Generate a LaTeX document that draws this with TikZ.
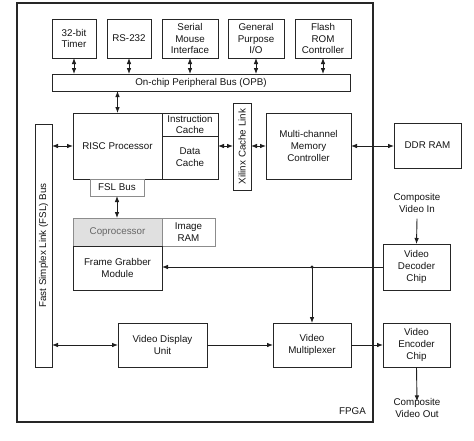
\documentclass[tikz,border=0pt]{standalone}
\usepackage{fontspec}
\setmainfont{Liberation Sans}
\usetikzlibrary{arrows.meta}
\begin{document}
\begin{tikzpicture}[x=1pt,y=-1pt,
  every node/.style={font=\fontsize{9.8}{11.7}\selectfont, text=black!92},
  box/.style={draw=black!85, line width=0.9pt, anchor=north west, inner sep=0pt, outer sep=0pt, align=center},
  lbox/.style={box, draw=black!45},
  lbl/.style={align=center, inner sep=0pt},
  conn/.style={draw=black!88, line width=0.9pt},
  dbl/.style={conn, {Latex[length=6pt,width=4.6pt]}-{Latex[length=6pt,width=4.6pt]}},
  sgl/.style={conn, -{Latex[length=6pt,width=4.6pt]}}]
\useasboundingbox (0,0) rectangle (474,440);
% FPGA frame
\node[box, line width=1.4pt, minimum width=356pt, minimum height=419pt] (fpga) at (17,3) {};
\node[lbl, anchor=south east] (fpgalbl) at (366,415) {FPGA};
% peripherals
\node[box, minimum width=44pt, minimum height=39pt] (timer) at (52,19) {32-bit\\Timer};
\node[box, minimum width=44pt, minimum height=39pt] (rs) at (107,19) {RS-232};
\node[box, minimum width=56pt, minimum height=39pt] (mouse) at (162,19) {Serial\\Mouse\\Interface};
\node[box, minimum width=56pt, minimum height=39pt] (gpio) at (228,19) {General\\Purpose\\I/O};
\node[box, minimum width=56pt, minimum height=39pt] (flash) at (295,19) {Flash\\ROM\\Controller};
\node[box, minimum width=298pt, minimum height=17pt] (opb) at (52,74) {On-chip Peripheral Bus (OPB)};
% processor
\node[box, minimum width=89pt, minimum height=66pt] (risc) at (73,113) {RISC Processor};
\node[box, minimum width=56pt, minimum height=23pt] (icache) at (162,113) {Instruction\\Cache};
\node[box, minimum width=56pt, minimum height=43pt] (dcache) at (162,136) {Data\\Cache};
\node[lbox, minimum width=54pt, minimum height=17pt] (fslbus) at (90,179) {FSL Bus};
\node[box, minimum width=17pt, minimum height=243pt] (fsl) at (35,124) {};
\node[lbl, rotate=90] (fsltxt) at (fsl.center) {Fast Simplex Link (FSL) Bus};
\node[box, minimum width=18pt, minimum height=87pt] (xcl) at (233,103) {};
\node[lbl, rotate=90] (xcltxt) at (xcl.center) {Xilinx Cache Link};
\node[box, minimum width=85pt, minimum height=66pt] (mem) at (266,113) {Multi-channel\\Memory\\Controller};
\node[box, minimum width=67pt, minimum height=45pt] (ddr) at (394,123) {DDR RAM};
% video
\node[lbl] (cvin) at (417,203) {Composite\\Video In};
\node[box, minimum width=67pt, minimum height=46pt] (dec) at (383,244) {Video\\Decoder\\Chip};
\node[lbox, fill=black!12, text=black!60, minimum width=89pt, minimum height=28pt] (cop) at (73,218) {Coprocessor};
\node[lbox, minimum width=53pt, minimum height=28pt] (iram) at (162,218) {Image\\RAM};
\node[box, minimum width=89pt, minimum height=44pt] (fg) at (73,246) {Frame Grabber\\Module};
\node[box, minimum width=89pt, minimum height=44pt] (vdu) at (118,323) {Video Display\\Unit};
\node[box, minimum width=78pt, minimum height=44pt] (mux) at (273,323) {Video\\Multiplexer};
\node[box, minimum width=67pt, minimum height=44pt] (enc) at (383,323) {Video\\Encoder\\Chip};
\node[lbl] (cvout) at (417,408) {Composite\\Video Out};
% connectors
\foreach \p in {timer,rs,mouse,gpio,flash}
  \draw[dbl] (\p.south) -- (\p.south |- opb.north);
\draw[dbl] (risc.north |- opb.south) -- (risc.north);
\draw[dbl] (risc.west -| fsl.east) -- (risc.west);
\draw[dbl] (risc.west -| dcache.east) -- (risc.west -| xcl.west);
\draw[dbl] (mem.west -| xcl.east) -- (mem.west);
\draw[dbl] (mem.east) -- (mem.east -| ddr.west);
\draw[dbl] (fslbus.south) -- (fslbus.south |- cop.north);
\draw[sgl] ([yshift=-6pt]cvin.south) -- (dec.north);
\draw[sgl] (dec.west) -- (dec.west -| fg.east);
\coordinate (j) at (mux.north |- dec.west);
\fill[black!88] (j) circle (1.6pt);
\draw[sgl] (j) -- (mux.north);
\draw[dbl] (vdu.west -| fsl.east) -- (vdu.west);
\draw[sgl] (vdu.east) -- (mux.west);
\draw[sgl] (mux.east) -- (enc.west);
\draw[sgl] (enc.south) -- ([yshift=-3pt]cvout.north);
\end{tikzpicture}
\end{document}
